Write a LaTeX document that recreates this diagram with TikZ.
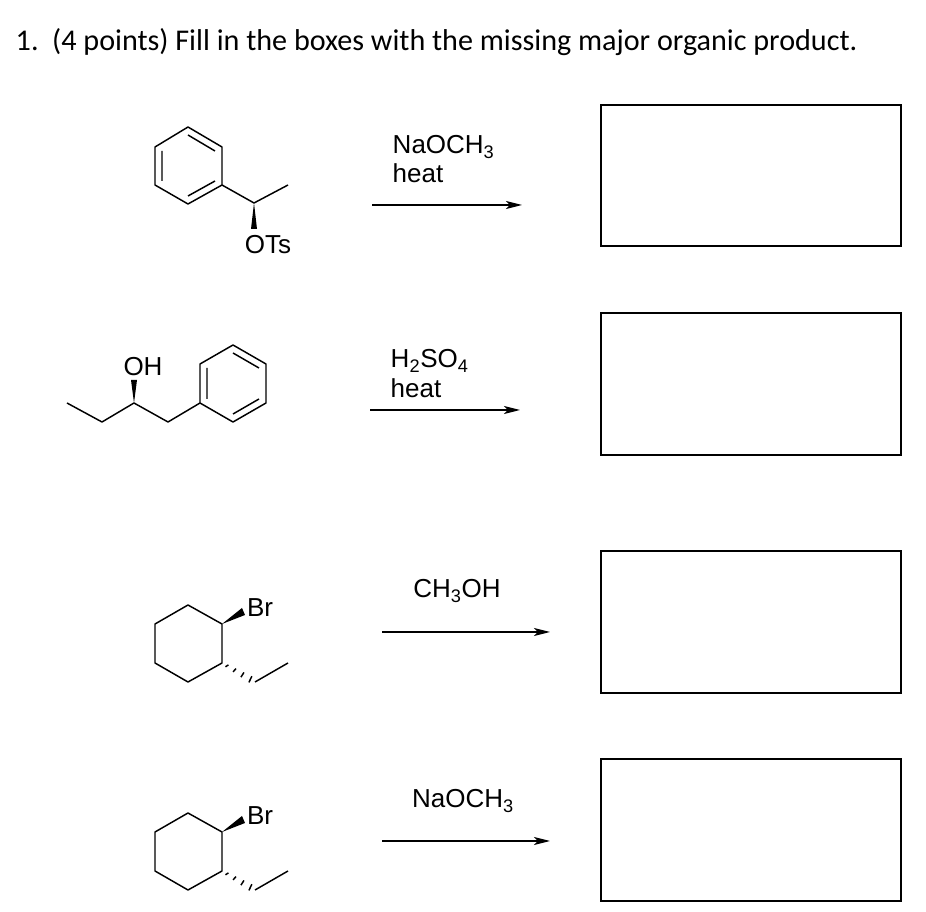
\documentclass[tikz,border=0pt]{standalone}
\usepackage{fontspec}
\usetikzlibrary{calc,arrows.meta}
\setmainfont{Liberation Sans}
\newfontfamily\titlefont{Carlito}
\begin{document}
\begin{tikzpicture}[x=0.75pt,y=-0.75pt,line width=1.1pt,
  bond/.style={line width=1.1pt,line join=round},
  wedge/.style={fill=black,draw=none},
  box/.style={draw,line width=1pt},
  rxn/.style={-{Stealth[length=12pt,width=6pt,inset=3pt]},line width=1pt},
  lab/.style={font=\fontsize{19.5}{22}\selectfont,inner sep=0pt},
  ttl/.style={font=\titlefont\fontsize{22.6}{26}\selectfont,inner sep=0pt,anchor=west}]
\useasboundingbox (0,0) rectangle (926,912);
\node[ttl] (title) at (15,42) {1.\ \ (4 points) Fill in the boxes with the missing major organic product.};
% molecule 1
\draw[bond] (188,127)--(222,147)--(222,185)--(188,204)--(155,185)--(155,147)--cycle;
\draw[bond] (188,135)--(215,151) (215,181)--(188,196) (162,181)--(162,151);
\draw[bond] (222,185)--(254,203)--(288,185);
\fill[wedge] (254,203)--(257,229)--(251,229)--cycle;
\node[lab] (ots) at (268,245) {OTs};
% molecule 2
\draw[bond] (67,403)--(102,422)--(134,403)--(168,422)--(200,403);
\draw[bond] (200,403)--(200,364)--(233,345)--(266,364)--(266,403)--(233,422)--cycle;
\draw[bond] (207,399)--(207,368) (233,353)--(259,368) (259,399)--(233,414);
\fill[wedge] (134,403)--(131,380)--(137,380)--cycle;
\node[lab] (oh) at (143,367) {OH};
% molecule 3 and 4
\foreach \dy/\nm in {0/a,208/b}{
\begin{scope}[yshift=-\dy*0.75pt]
\draw[bond] (188,605)--(222,624)--(222,663)--(188,682)--(155,663)--(155,624)--cycle;
\fill[wedge] (222,624)--(242,608)--(245,615)--cycle;
\node[lab] (br\nm) at (260,608) {Br};
\foreach \t in {0.15,0.38,0.62,0.86}{
 \draw[line width=1.1pt] ($(222,663)!\t!(255,682)+(1.5,-3*\t-0.5)$)--($(222,663)!\t!(255,682)-(1.5,-3*\t-0.5)$);
}
\draw[bond] (255,682)--(288,663);
\end{scope}}
% arrows and reagents
\coordinate (a1s) at (372,205); \coordinate (a1e) at (522,205);
\draw[rxn] (a1s)--(a1e);
\node[lab,anchor=west] (r1a) at (392,147) {NaOCH\textsubscript{3}};
\node[lab,anchor=west] (r1b) at (392,173) {heat};
\coordinate (a2s) at (370,410); \coordinate (a2e) at (520,410);
\draw[rxn] (a2s)--(a2e);
\node[lab,anchor=west] (r2a) at (390,361) {H\textsubscript{2}SO\textsubscript{4}};
\node[lab,anchor=west] (r2b) at (390,388) {heat};
\coordinate (a3s) at (382,632); \coordinate (a3e) at (550,632);
\draw[rxn] (a3s)--(a3e);
\node[lab] (r3) at (457,591) {CH\textsubscript{3}OH};
\coordinate (a4s) at (382,841); \coordinate (a4e) at (550,841);
\draw[rxn] (a4s)--(a4e);
\node[lab] (r4) at (463,801) {NaOCH\textsubscript{3}};
% boxes
\draw[box] (601,105) rectangle (901,246);
\draw[box] (601,313) rectangle (901,455);
\draw[box] (601,551) rectangle (901,693);
\draw[box] (601,759) rectangle (901,901);
\end{tikzpicture}
\end{document}
